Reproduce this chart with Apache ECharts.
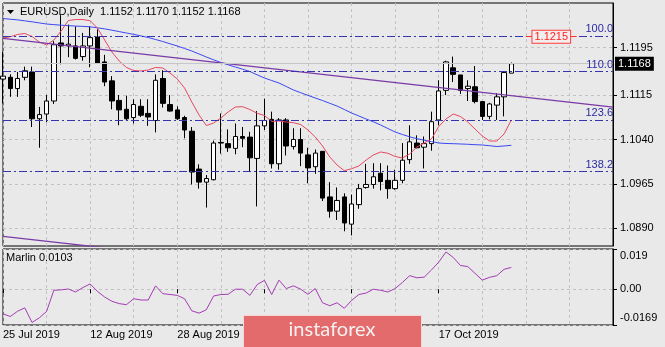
<!DOCTYPE html>
<html><head><meta charset="utf-8">
<script src="https://cdn.jsdelivr.net/npm/echarts@6/dist/echarts.min.js"></script>
<style>html,body{margin:0;padding:0;background:#e9e9e9;}#c{width:665px;height:347px;}</style>
</head><body><div id="c"></div>
<script>
const symbolName = 'EURUSD';
const periodName = 'Daily';
const dates = ['25 Jul 2019','26 Jul 2019','29 Jul 2019','30 Jul 2019','31 Jul 2019',
'1 Aug 2019','2 Aug 2019','5 Aug 2019','6 Aug 2019','7 Aug 2019','8 Aug 2019','9 Aug 2019','12 Aug 2019','13 Aug 2019','14 Aug 2019','15 Aug 2019','16 Aug 2019','19 Aug 2019','20 Aug 2019','21 Aug 2019','22 Aug 2019','23 Aug 2019','26 Aug 2019','27 Aug 2019','28 Aug 2019','29 Aug 2019','30 Aug 2019',
'2 Sep 2019','3 Sep 2019','4 Sep 2019','5 Sep 2019','6 Sep 2019','9 Sep 2019','10 Sep 2019','11 Sep 2019','12 Sep 2019','13 Sep 2019','16 Sep 2019','17 Sep 2019','18 Sep 2019','19 Sep 2019','20 Sep 2019','23 Sep 2019','24 Sep 2019','25 Sep 2019','26 Sep 2019','27 Sep 2019','30 Sep 2019',
'1 Oct 2019','2 Oct 2019','3 Oct 2019','4 Oct 2019','7 Oct 2019','8 Oct 2019','9 Oct 2019','10 Oct 2019','11 Oct 2019','14 Oct 2019','15 Oct 2019','16 Oct 2019','17 Oct 2019','18 Oct 2019','21 Oct 2019','22 Oct 2019','23 Oct 2019','24 Oct 2019','25 Oct 2019','28 Oct 2019','29 Oct 2019','30 Oct 2019','31 Oct 2019',
'1 Nov 2019','4 Nov 2019','5 Nov 2019','6 Nov 2019','7 Nov 2019','8 Nov 2019','11 Nov 2019','12 Nov 2019','13 Nov 2019','14 Nov 2019','15 Nov 2019','18 Nov 2019','19 Nov 2019','20 Nov 2019'];
const opens = [1.1142,1.1145,1.1126,1.1145,1.1154,1.1075,1.1083,1.1105,1.1203,1.1198,1.1198,1.1180,1.1198,1.1213,1.1171,1.1139,1.1106,1.1091,1.1077,1.1096,1.1084,1.1072,1.1143,1.1099,1.1090,1.1077,1.1054,1.0990,1.0968,1.0972,1.1035,1.1033,1.1025,1.1045,1.1044,1.1008,1.1063,1.1074,1.0999,1.1073,1.1028,1.1040,1.1014,1.0994,1.1020,1.0943,1.0919,1.0943,1.0897,1.0930,1.0959,1.0964,1.0983,1.0971,1.0957,1.0971,1.1006,1.1034,1.1027,1.1033,1.1073,1.1123,1.1161,1.1149,1.1126,1.1129,1.1104,1.1079,1.1098,1.1112,1.1152];
const highs = [1.1188,1.1150,1.1154,1.1163,1.1163,1.1095,1.1115,1.1206,1.1250,1.1234,1.1231,1.1220,1.1231,1.1226,1.1183,1.1147,1.1115,1.1114,1.1108,1.1108,1.1108,1.1150,1.1157,1.1115,1.1096,1.1080,1.1061,1.0998,1.0980,1.1038,1.1084,1.1057,1.1067,1.1061,1.1053,1.1088,1.1109,1.1087,1.1076,1.1076,1.1059,1.1059,1.1026,1.1023,1.1020,1.0968,1.0959,1.0949,1.0947,1.0965,1.0999,1.1000,1.1000,1.0996,1.0989,1.1034,1.1064,1.1047,1.1045,1.1087,1.1140,1.1173,1.1180,1.1149,1.1140,1.1164,1.1104,1.1102,1.1118,1.1154,1.1170];
const lows = [1.1101,1.1112,1.1112,1.1140,1.1061,1.1026,1.1069,1.1100,1.1167,1.1179,1.1175,1.1173,1.1162,1.1168,1.1130,1.1091,1.1064,1.1073,1.1067,1.1078,1.1063,1.1052,1.1094,1.1087,1.1073,1.1042,1.0964,1.0957,1.0925,1.0971,1.1016,1.1019,1.1015,1.1027,1.0985,1.0927,1.1056,1.0991,1.0989,1.1013,1.1023,1.0995,1.0966,1.0982,1.0936,1.0908,1.0904,1.0885,1.0878,1.0923,1.0957,1.0957,1.0954,1.0940,1.0955,1.0966,1.0999,1.1025,1.0991,1.1021,1.1064,1.1115,1.1137,1.1117,1.1105,1.1101,1.1073,1.1074,1.1073,1.1079,1.1152];
const closes = [1.1147,1.1126,1.1143,1.1156,1.1075,1.1082,1.1105,1.1200,1.1198,1.1201,1.1177,1.1198,1.1212,1.1169,1.1137,1.1105,1.1090,1.1075,1.1099,1.1081,1.1078,1.1140,1.1101,1.1088,1.1075,1.1056,1.0985,1.0968,1.0974,1.1034,1.1034,1.1026,1.1045,1.1042,1.1009,1.1063,1.1072,1.0999,1.1073,1.1029,1.1040,1.1017,1.0992,1.1017,1.0941,1.0919,1.0937,1.0899,1.0931,1.0957,1.0964,1.0977,1.0969,1.0957,1.0971,1.1005,1.1036,1.1026,1.1033,1.1070,1.1122,1.1171,1.1150,1.1123,1.1130,1.1104,1.1079,1.1100,1.1112,1.1153,1.1168];
const maSlow = [1.12443,1.12431,1.12420,1.12404,1.12387,1.12369,1.12350,1.12340,1.12330,1.12322,1.12315,1.12310,1.12303,1.12286,1.12268,1.12246,1.12222,1.12198,1.12175,1.12149,1.12122,1.12089,1.12055,1.12016,1.11979,1.11937,1.11894,1.11844,1.11793,1.11746,1.11700,1.11661,1.11624,1.11587,1.11548,1.11492,1.11438,1.11396,1.11354,1.11295,1.11236,1.11190,1.11144,1.11101,1.11058,1.11011,1.10965,1.10906,1.10847,1.10797,1.10746,1.10699,1.10645,1.10585,1.10526,1.10484,1.10445,1.10413,1.10388,1.10364,1.10341,1.10332,1.10329,1.10324,1.10319,1.10312,1.10307,1.10295,1.10281,1.10290,1.10302];
const maFast = [1.12114,1.12136,1.12173,1.12190,1.12139,1.12046,1.11996,1.12080,1.12232,1.12409,1.12426,1.12426,1.12406,1.12283,1.12080,1.11877,1.11725,1.11616,1.11565,1.11557,1.11573,1.11616,1.11607,1.11523,1.11421,1.11269,1.11033,1.10813,1.10636,1.10678,1.10763,1.10864,1.10949,1.10954,1.10906,1.10842,1.10805,1.10704,1.10712,1.10695,1.10683,1.10653,1.10560,1.10442,1.10290,1.10104,1.09969,1.09873,1.09906,1.09952,1.10053,1.10138,1.10189,1.10167,1.10113,1.10087,1.10155,1.10273,1.10341,1.10408,1.10619,1.10746,1.10830,1.10788,1.10695,1.10577,1.10459,1.10374,1.10374,1.10493,1.10729];
const marlin = [-0.0116,-0.0129,-0.0104,-0.0088,-0.0157,-0.0135,-0.0105,-0.0005,-0.0003,0.0001,-0.0013,0.0008,0.0025,-0.0010,-0.0037,-0.0057,-0.0068,-0.0073,-0.0045,-0.0051,-0.0051,0.0016,-0.0021,-0.0025,-0.0029,-0.0045,-0.0102,-0.0113,-0.0097,-0.0032,-0.0025,-0.0024,0.0000,0.0000,-0.0029,0.0022,0.0042,-0.0025,0.0043,0.0003,0.0016,0.0000,-0.0024,0.0003,-0.0064,-0.0078,-0.0064,-0.0090,-0.0053,-0.0025,-0.0018,0.0000,-0.0005,-0.0013,0.0003,0.0032,0.0064,0.0054,0.0057,0.0091,0.0128,0.0176,0.0150,0.0112,0.0107,0.0075,0.0043,0.0056,0.0064,0.0094,0.0103];
const priceTicks = [1.0890, 1.0965, 1.1040, 1.1115, 1.1195];
const marlinTicks = [0.019, 0.0, -0.0169];
const marlinTickLabels = ['0.019', '0.00', '-0.0169'];
const fibLevels = ['100.0', '110.0', '123.6', '138.2'];
const fibPrices = [1.1215, 1.1155, 1.1073, 1.0986];
const targetPrice = 1.1215;
const targetFrom = 72, targetTo = 79;
const trendUpper = [[0, 1.12109], [84, 1.10948]];
const trendLower = [[0, 1.08765], [84, 1.07600]];
const lastPrice = 1.1168;
const priceMin = 1.08601, priceMax = 1.12705;

const FONT = 'Liberation Sans';
const lastIdx = closes.length - 1;
const lastCat = dates.length - 1;
const chart = echarts.init(document.getElementById('c'), null, {renderer: 'canvas'});

const hLine = (p, lineStyle, label) => [
  {coord: [0, p], lineStyle: lineStyle, label: label},
  {coord: [lastCat, p]}
];

const fibMarks = fibPrices.map((p, k) => hLine(p,
  {color: '#3434b0', type: [8, 3, 2, 3], width: 1},
  {show: true, position: 'insideEndTop', formatter: fibLevels[k], color: '#2a2aa4', fontSize: 11, fontFamily: FONT, distance: [0, 1]}
));

const option = {
  animation: false,
  backgroundColor: '#e9e9e9',
  grid: [
    {left: 3, right: 52, top: 3, height: 243, show: true, borderColor: '#000', borderWidth: 1, backgroundColor: 'transparent'},
    {left: 3, right: 52, top: 249, height: 76, show: true, borderColor: '#000', borderWidth: 1, backgroundColor: 'transparent'}
  ],
  xAxis: [
    {type: 'category', gridIndex: 0, data: dates, boundaryGap: false,
     axisLine: {show: false}, axisTick: {show: false}, axisLabel: {show: false},
     splitLine: {show: true, interval: (i) => i % 6 === 0, lineStyle: {color: '#c2c2c2', type: [3, 3]}}},
    {type: 'category', gridIndex: 1, data: dates, boundaryGap: false,
     axisLine: {show: false},
     axisTick: {show: true, interval: (i) => i % 12 === 0 && i <= lastIdx, length: 4, lineStyle: {color: '#000'}},
     axisLabel: {show: true, interval: (i) => i % 12 === 0 && i <= lastIdx, align: 'left', margin: 4, fontSize: 11, fontFamily: FONT, color: '#000'},
     splitLine: {show: true, interval: (i) => i % 6 === 0, lineStyle: {color: '#c2c2c2', type: [3, 3]}}}
  ],
  yAxis: [
    {type: 'value', gridIndex: 0, position: 'right', min: priceMin, max: priceMax, scale: true,
     axisLine: {show: true, lineStyle: {color: '#000'}},
     axisTick: {show: true, customValues: priceTicks, length: 4, lineStyle: {color: '#000'}},
     axisLabel: {show: true, customValues: priceTicks, formatter: (v) => v.toFixed(4), margin: 7, fontSize: 11, fontFamily: FONT, color: '#000'},
     splitLine: {show: true, lineStyle: {color: '#c2c2c2', type: [3, 3]}}},
    {type: 'value', gridIndex: 1, position: 'right', min: marlinTicks[2], max: marlinTicks[0],
     axisLine: {show: true, lineStyle: {color: '#000'}},
     axisTick: {show: true, customValues: marlinTicks, length: 4, lineStyle: {color: '#000'}},
     axisLabel: {show: true, customValues: marlinTicks, margin: 7, fontSize: 11, fontFamily: FONT, color: '#000',
       formatter: (v) => {
         let k = 0, best = 1;
         marlinTicks.forEach((t, j) => { if (Math.abs(t - v) < best) { best = Math.abs(t - v); k = j; } });
         const s = marlinTickLabels[k];
         if (k === 0) return '{t|' + s + '}';
         if (k === marlinTicks.length - 1) return '{b|' + s + '}';
         return s;
       },
       rich: {
         t: {padding: [14, 0, 0, 0], fontSize: 11, fontFamily: FONT, color: '#000'},
         b: {padding: [0, 0, 14, 0], fontSize: 11, fontFamily: FONT, color: '#000'}
       }},
     splitLine: {show: true, lineStyle: {color: '#c2c2c2', type: [3, 3]}}}
  ],
  series: [
    {type: 'candlestick', name: symbolName, xAxisIndex: 0, yAxisIndex: 0,
     data: opens.map((o, i) => [o, closes[i], lows[i], highs[i]]),
     barWidth: 5,
     itemStyle: {color: '#ffffff', color0: '#000000', borderColor: '#000000', borderColor0: '#000000', borderWidth: 1},
     markLine: {silent: true, symbol: ['none', 'none'], animation: false,
       data: fibMarks.concat([
         hLine(lastPrice, {color: '#c6c6c6', type: 'solid', width: 1},
          {show: true, position: 'end', formatter: lastPrice.toFixed(4), backgroundColor: '#000', color: '#fff',
           padding: [2, 3, 1, 3], fontSize: 11, fontFamily: FONT, distance: 2}),
         [{coord: [targetFrom, targetPrice], lineStyle: {color: '#ff3030', type: 'solid', width: 1},
           label: {show: true, position: 'middle', formatter: targetPrice.toFixed(4), color: '#ff2020', backgroundColor: '#f3eeee',
                   borderColor: '#ff3c3c', borderWidth: 1, padding: [1, 2, 0, 2], fontSize: 11, fontFamily: FONT, distance: -7}},
          {coord: [targetTo, targetPrice]}]
       ])}},
    {type: 'line', name: 'MA slow', xAxisIndex: 0, yAxisIndex: 0, data: maSlow, symbol: 'none', z: 3,
     lineStyle: {color: '#3a48f2', width: 1}},
    {type: 'line', name: 'MA fast', xAxisIndex: 0, yAxisIndex: 0, data: maFast, symbol: 'none', z: 3,
     lineStyle: {color: '#e8485f', width: 1}},
    {type: 'line', name: 'Trend upper', xAxisIndex: 0, yAxisIndex: 0, data: trendUpper, symbol: 'none', z: 3,
     lineStyle: {color: '#7a3aa6', width: 1.3}},
    {type: 'line', name: 'Trend lower', xAxisIndex: 0, yAxisIndex: 0, data: trendLower, symbol: 'none', z: 3,
     lineStyle: {color: '#7a3aa6', width: 1.3}},
    {type: 'line', name: 'Marlin', xAxisIndex: 1, yAxisIndex: 1, data: marlin, symbol: 'none',
     lineStyle: {color: '#a43cb4', width: 1}}
  ],
  graphic: [
    {type: 'polygon', shape: {points: [[7, 10], [14, 10], [10.5, 14]]}, style: {fill: '#000'}, z: 100},
    {type: 'text', left: 20, top: 6, z: 100,
     style: {text: symbolName + ',' + periodName + '  ' + [opens[lastIdx], highs[lastIdx], lows[lastIdx], closes[lastIdx]].map(v => v.toFixed(4)).join(' '),
             fill: '#000', font: '11px "' + FONT + '"'}},
    {type: 'text', left: 6, top: 252, z: 100,
     style: {text: 'Marlin ' + marlin[lastIdx].toFixed(4), fill: '#000', font: '11px "' + FONT + '"'}},
    {type: 'rect', z: 200, shape: {x: 243.5, y: 315.5, width: 178, height: 40}, style: {fill: '#e36b6b', stroke: '#f6d6d6', lineWidth: 1}},
    {type: 'text', z: 201, x: 332, y: 330, style: {text: 'instaforex', fill: '#f7f1f1', font: '20px "Lato"', textAlign: 'center', textVerticalAlign: 'middle'}}
  ]
};
chart.setOption(option);
</script>
</body></html>
